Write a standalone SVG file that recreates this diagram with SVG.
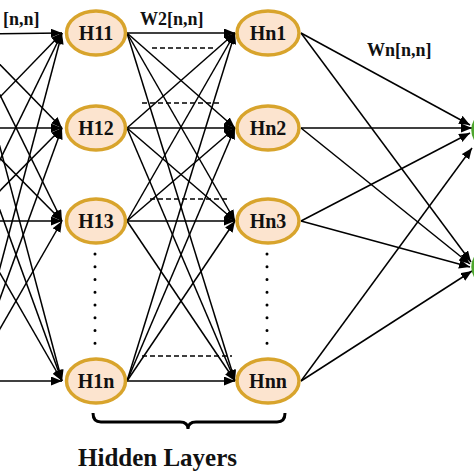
<svg xmlns="http://www.w3.org/2000/svg" width="474" height="474" viewBox="0 0 474 474">
<style>
.node ellipse{fill:#fce4cf;stroke:#d8a42c;stroke-width:3.5}
.out ellipse{fill:#e2efda;stroke:#4ea72e;stroke-width:3.5}
.lbl{font-family:"Liberation Serif",serif;font-weight:bold;font-size:20px;fill:#111;text-anchor:middle}
.wt{font-family:"Liberation Serif",serif;font-weight:bold;font-size:18px;fill:#111}
.c line{stroke:#000;stroke-width:1.5;marker-end:url(#ah)}
.dash{stroke:#000;stroke-width:1.3;stroke-dasharray:5 3;fill:none}
.dot{stroke:#000;stroke-width:3;stroke-linecap:round;stroke-dasharray:0 12.75;fill:none}
</style>
<defs>
<marker id="ah" markerUnits="userSpaceOnUse" markerWidth="12" markerHeight="10" refX="11" refY="4.5" orient="auto">
<path d="M0,0 L11,4.5 L0,9 z" fill="#000"/>
</marker>
</defs>
<rect width="474" height="474" fill="#fff"/>
<g id="connectors" class="c">
<!-- input to hidden 1 -->
<line x1="-30" y1="34" x2="62" y2="33"/>
<line x1="-30" y1="34" x2="62" y2="128"/>
<line x1="-30" y1="34" x2="62" y2="221"/>
<line x1="-30" y1="34" x2="62" y2="381"/>
<line x1="-30" y1="128" x2="62" y2="33"/>
<line x1="-30" y1="128" x2="62" y2="128"/>
<line x1="-30" y1="128" x2="62" y2="221"/>
<line x1="-30" y1="128" x2="62" y2="381"/>
<line x1="-30" y1="221" x2="62" y2="33"/>
<line x1="-30" y1="221" x2="62" y2="128"/>
<line x1="-30" y1="221" x2="62" y2="221"/>
<line x1="-30" y1="221" x2="62" y2="381"/>
<line x1="-30" y1="381" x2="62" y2="33"/>
<line x1="-30" y1="381" x2="62" y2="128"/>
<line x1="-30" y1="381" x2="62" y2="221"/>
<line x1="-30" y1="381" x2="62" y2="381"/>
<!-- hidden 1 to hidden n -->
<line x1="127" y1="33" x2="235" y2="33"/>
<line x1="127" y1="33" x2="235" y2="128"/>
<line x1="127" y1="33" x2="235" y2="221"/>
<line x1="127" y1="33" x2="235" y2="381"/>
<line x1="127" y1="128" x2="235" y2="33"/>
<line x1="127" y1="128" x2="235" y2="128"/>
<line x1="127" y1="128" x2="235" y2="221"/>
<line x1="127" y1="128" x2="235" y2="381"/>
<line x1="127" y1="221" x2="235" y2="33"/>
<line x1="127" y1="221" x2="235" y2="128"/>
<line x1="127" y1="221" x2="235" y2="221"/>
<line x1="127" y1="221" x2="235" y2="381"/>
<line x1="127" y1="381" x2="235" y2="33"/>
<line x1="127" y1="381" x2="235" y2="128"/>
<line x1="127" y1="381" x2="235" y2="221"/>
<line x1="127" y1="381" x2="235" y2="381"/>
<!-- hidden n to output -->
<line x1="301" y1="33" x2="470" y2="125"/>
<line x1="301" y1="128" x2="472" y2="128"/>
<line x1="301" y1="221" x2="470" y2="133"/>
<line x1="301" y1="381" x2="472" y2="148"/>
<line x1="301" y1="33" x2="471" y2="262"/>
<line x1="301" y1="128" x2="470" y2="264"/>
<line x1="301" y1="221" x2="470" y2="267"/>
<line x1="301" y1="381" x2="472" y2="271"/>
</g>
<g id="dashes">
<line class="dash" x1="152" y1="48" x2="215" y2="48"/>
<line class="dash" x1="142" y1="103" x2="220" y2="103"/>
<line class="dash" x1="150" y1="199" x2="230" y2="199"/>
<line class="dash" x1="142" y1="356" x2="232" y2="356"/>
<line class="dot" x1="95" y1="254" x2="95" y2="356"/>
<line class="dot" x1="267" y1="254" x2="267" y2="356"/>
</g>
<g id="H11" class="node"><ellipse cx="96" cy="33" rx="29.5" ry="22"/><text class="lbl" x="96" y="40">H11</text></g>
<g id="H12" class="node"><ellipse cx="96" cy="128" rx="29.5" ry="22"/><text class="lbl" x="96" y="135">H12</text></g>
<g id="H13" class="node"><ellipse cx="96" cy="221" rx="29.5" ry="22"/><text class="lbl" x="96" y="228">H13</text></g>
<g id="H1n" class="node"><ellipse cx="96" cy="381" rx="29.5" ry="22"/><text class="lbl" x="96" y="388">H1n</text></g>
<g id="Hn1" class="node"><ellipse cx="268" cy="33" rx="31" ry="22"/><text class="lbl" x="268" y="40">Hn1</text></g>
<g id="Hn2" class="node"><ellipse cx="268" cy="128" rx="31" ry="22"/><text class="lbl" x="268" y="135">Hn2</text></g>
<g id="Hn3" class="node"><ellipse cx="268" cy="221" rx="31" ry="22"/><text class="lbl" x="268" y="228">Hn3</text></g>
<g id="Hnn" class="node"><ellipse cx="268" cy="381" rx="31" ry="22"/><text class="lbl" x="268" y="388">Hnn</text></g>
<g id="O1" class="out"><ellipse cx="504" cy="130" rx="31" ry="23"/></g>
<g id="O2" class="out"><ellipse cx="504" cy="267" rx="31" ry="23"/></g>
<text class="wt" x="3" y="25">[n,n]</text>
<text class="wt" x="140" y="25">W2[n,n]</text>
<text class="wt" x="367" y="56">Wn[n,n]</text>
<path d="M93,413 Q93,422 101,422 L180,422 Q188,422 188,429 Q188,422 196,422 L277,422 Q285,422 285,413" fill="none" stroke="#000" stroke-width="3"/>
<text x="78" y="466" font-family="Liberation Serif, serif" font-weight="bold" font-size="25" fill="#111">Hidden Layers</text>
</svg>
